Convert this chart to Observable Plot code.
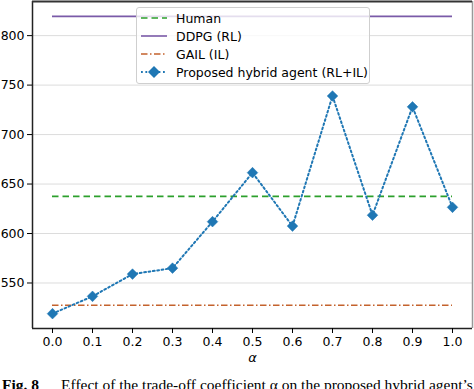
<!DOCTYPE html>
<html>
<head>
<meta charset="utf-8">
<script src="https://cdn.jsdelivr.net/npm/d3@7"></script>
<script src="https://cdn.jsdelivr.net/npm/@observablehq/plot@0.6"></script>
<style>
  html, body { margin: 0; padding: 0; background: #fff; overflow: hidden; }
  #wrap { position: relative; width: 474px; height: 389px; }
  #legend {
    position: absolute; left: 136px; top: 7px; width: 232px; height: 75px;
    border: 1px solid #cfcfcf; border-radius: 3px; background: rgba(255,255,255,0.8);
    font-family: "DejaVu Sans", sans-serif; font-size: 12.5px; color: #000;
  }
  .row { position: absolute; left: 0; height: 18px; display: flex; align-items: center; }
  .row svg { margin-left: 2px; }
  .row span { position: absolute; left: 39px; white-space: nowrap; }
  #caption {
    position: absolute; left: 2px; top: 377px; white-space: nowrap;
    font-family: "Liberation Serif", "Times New Roman", serif; font-size: 15.5px; line-height: 15px; color: #000;
  }
</style>
</head>
<body>
<div id="wrap"></div>
<script>
const alphas = [0.0, 0.1, 0.2, 0.3, 0.4, 0.5, 0.6, 0.7, 0.8, 0.9, 1.0];
const hybrid = [519, 536.5, 559, 565, 612, 661.5, 607.5, 739, 618.5, 728, 626.5];
const human = 637.5;
const ddpg = 819.5;
const gail = 527.5;
const yTicks = [550, 600, 650, 700, 750, 800];
const seriesNames = ["Human", "DDPG (RL)", "GAIL (IL)", "Proposed hybrid agent (RL+IL)"];
const colors = ["#2ca02c", "#7a5aa8", "#c4622d", "#1f77b4"];
const xDomain = [-0.05, 1.05];
const yDomain = [504, 834.5];
const captionLabel = "Fig. 8";
const captionText = "Effect of the trade-off coefficient \u03B1 on the proposed hybrid agent\u2019s";

const pts = alphas.map((a, i) => ({a, v: hybrid[i]}));
const a0 = d3.min(alphas), a1 = d3.max(alphas);

const chart = Plot.plot({
  width: 474,
  height: 372,
  marginLeft: 32,
  marginRight: 2,
  marginTop: 1,
  marginBottom: 44,
  style: {fontFamily: "DejaVu Sans, sans-serif", fontSize: "12.5px", color: "#000", background: "#fff"},
  x: {domain: xDomain, ticks: alphas, tickFormat: d3.format(".1f"), tickSize: 5, tickPadding: 4, label: null},
  y: {domain: yDomain, ticks: yTicks, tickSize: 5, tickPadding: 3, label: null},
  marks: [
    Plot.gridY(yTicks, {stroke: "#dcdcdc", strokeOpacity: 1, strokeWidth: 1}),
    Plot.ruleY([ddpg], {x1: a0, x2: a1, stroke: colors[1], strokeWidth: 1.6}),
    Plot.ruleY([human], {x1: a0, x2: a1, stroke: colors[0], strokeWidth: 1.6, strokeDasharray: "6.5,4"}),
    Plot.ruleY([gail], {x1: a0, x2: a1, stroke: colors[2], strokeWidth: 1.6, strokeDasharray: "6.5,2.5,1.5,2.5"}),
    Plot.line(pts, {x: "a", y: "v", stroke: colors[3], strokeWidth: 2, strokeDasharray: "1.8,2.6"}),
    Plot.dot(pts, {x: "a", y: "v", symbol: "diamond2", r: 4.8, fill: colors[3], stroke: colors[3], strokeWidth: 0.5}),
    Plot.ruleX([xDomain[0]], {stroke: "#222", strokeWidth: 1.5}),
    Plot.ruleX([xDomain[1]], {stroke: "#999", strokeWidth: 1.5}),
    Plot.ruleY([yDomain[0]], {stroke: "#222", strokeWidth: 1.5}),
    Plot.ruleY([yDomain[1]], {stroke: "#333", strokeWidth: 2}),
    Plot.axisX({ticks: alphas, tickFormat: d3.format(".1f"), tickSize: 5, tickPadding: 4, label: null}),
    Plot.axisY({ticks: yTicks, tickSize: 5, tickPadding: 3, label: null}),
    Plot.text(["\u03B1"], {frameAnchor: "bottom", dy: 33, fontStyle: "italic", fontSize: 13})
  ]
});

const wrap = document.getElementById("wrap");
wrap.appendChild(chart);

// legend
const legend = document.createElement("div");
legend.id = "legend";
const handles = [
  `<line x1="2" x2="28" y1="5" y2="5" stroke="${colors[0]}" stroke-width="1.6" stroke-dasharray="6.5,4"/>`,
  `<line x1="2" x2="28" y1="5" y2="5" stroke="${colors[1]}" stroke-width="1.6"/>`,
  `<line x1="2" x2="28" y1="5" y2="5" stroke="${colors[2]}" stroke-width="1.6" stroke-dasharray="6.5,2.5,1.5,2.5"/>`,
  `<line x1="2" x2="28" y1="5" y2="5" stroke="${colors[3]}" stroke-width="2" stroke-dasharray="1.8,2.6"/><path d="M15,-1 L21,5 L15,11 L9,5 Z" fill="${colors[3]}"/>`
];
const rowTops = [1, 19, 37, 55];
seriesNames.forEach((name, i) => {
  const row = document.createElement("div");
  row.className = "row";
  row.style.top = rowTops[i] + "px";
  row.innerHTML = `<svg width="32" height="12" viewBox="0 -1 32 12" style="overflow:visible">${handles[i]}</svg><span>${name}</span>`;
  legend.appendChild(row);
});
wrap.appendChild(legend);

const cap = document.createElement("div");
cap.id = "caption";
cap.innerHTML = `<b>${captionLabel}</b><span style="margin-left:22px">${captionText}</span>`;
wrap.appendChild(cap);
</script>
</body>
</html>
